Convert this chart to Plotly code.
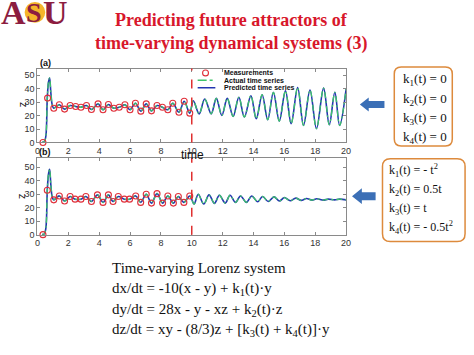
import plotly.graph_objects as go

W, H = 474, 355

# ---------------- data ----------------
# panel (a): k(t)=0
a_spike_t = [0.30, 0.45, 0.55, 0.64, 0.72, 0.79, 0.87, 0.96]
a_spike_z = [0.1, 0.5, 5, 33, 45, 48, 37, 28]
a_meas_t = [0.36, 0.66, 1.06, 1.42, 1.76, 2.12, 2.48, 2.82, 3.18, 3.50, 3.93, 4.25, 4.60, 4.95,
            5.30, 5.67, 6.00, 6.35, 6.70, 7.05, 7.39, 7.75, 8.10, 8.45, 8.77, 9.17, 9.51, 9.87]
a_meas_z = [0, 33, 25.5, 28, 24.8, 27.5, 26.7, 26.2, 27.5, 24.5, 28.7, 24.3, 28.2, 25.5,
            26.2, 28, 24.3, 29.2, 23.3, 28.7, 23.5, 27.5, 26.2, 24.3, 29.2, 22.5, 30.6, 21.8]
a_future_t = [10.10, 10.48, 10.84, 11.26, 11.59, 11.95, 12.30, 12.68, 13.05, 13.41, 13.83, 14.18,
              14.56, 14.92, 15.29, 15.67, 16.07, 16.44, 16.86, 17.24, 17.66, 18.08, 18.54, 18.91,
              19.27, 19.58, 20.00]
a_future_z = [31.0, 21.3, 32.3, 21.3, 32.8, 20.1, 32.8, 19.4, 33.6, 18.9, 34.8, 17.6,
              35.5, 16.9, 37.3, 15.9, 38.5, 14.0, 40.9, 12.7, 39.0, 10.3, 40.4, 13.2,
              37.3, 12.7, 39.7]

# panel (b): time-varying k(t)
b_spike_t = [0.30, 0.45, 0.55, 0.64, 0.72, 0.79, 0.87, 0.96]
b_spike_z = [0.1, 0.5, 5, 32.9, 45, 48.5, 37, 28]
b_meas_t = [0.36, 0.64, 1.06, 1.42, 1.76, 2.12, 2.44, 2.82, 3.14, 3.50, 3.89, 4.25, 4.60, 4.90,
            5.24, 5.63, 5.97, 6.37, 6.69, 7.05, 7.39, 7.75, 8.11, 8.45, 8.81, 9.13, 9.49, 9.87]
b_meas_z = [0, 32.9, 25.8, 28.7, 24.9, 28.3, 26.3, 26.3, 28.3, 24.6, 29.5, 23.9, 29.5, 24.6,
            28.3, 26.3, 26.3, 28.7, 23.9, 30.0, 23.4, 30.4, 23.4, 28.7, 23.4, 28.3, 23.9, 28.7]
b_future_t = [10.15, 10.42, 10.78, 11.12, 11.47, 11.79, 12.17, 12.48, 12.84, 13.16, 13.54, 13.89,
              14.27, 14.59, 14.95, 15.33, 15.68, 16.00, 16.38, 16.74, 17.09, 17.43, 17.79, 18.10,
              18.53, 18.84, 19.26, 19.58, 20.00]
b_future_z = [22.7, 29.9, 22.7, 29.5, 23.2, 29.2, 23.4, 29.2, 23.9, 28.7, 23.9, 28.7,
              24.4, 28.3, 24.6, 28.0, 24.9, 27.5, 25.1, 27.1, 25.4, 26.8, 25.6, 26.6,
              25.6, 26.3, 25.8, 26.3, 25.8]

x_ticks = [0, 2, 4, 6, 8, 10, 12, 14, 16, 18, 20]
y_ticks = [0, 10, 20, 30, 40, 50]
t_split = 10

legend_names = ["Measurements", "Actual time series", "Predicted time series"]

box1_lines = ["k<sub>1</sub>(t) = 0", "k<sub>2</sub>(t) = 0", "k<sub>3</sub>(t) = 0", "k<sub>4</sub>(t) = 0"]
box2_lines = ["k<sub>1</sub>(t) = - t<sup>2</sup>", "k<sub>2</sub>(t) = 0.5t", "k<sub>3</sub>(t) = t",
              "k<sub>4</sub>(t) = - 0.5t<sup>2</sup>"]
eq_lines = ["Time-varying Lorenz system",
            "dx/dt = -10(x - y) + k<sub>1</sub>(t)\u00b7y",
            "dy/dt = 28x - y - xz + k<sub>2</sub>(t)\u00b7z",
            "dz/dt = xy - (8/3)z + [k<sub>3</sub>(t) + k<sub>4</sub>(t)]\u00b7y"]

BLUE = "#2436b0"
GREEN = "#3ec46a"
RED = "#e0303a"


def px(x):
    return x / W


def py(y):
    return 1 - y / H


fig = go.Figure()

panels = [
    ("", "", a_spike_t, a_spike_z, a_meas_t, a_meas_z, a_future_t, a_future_z),
    ("2", "2", b_spike_t, b_spike_z, b_meas_t, b_meas_z, b_future_t, b_future_z),
]

for xs, ys, st, sz, mt, mz, ft, fz in panels:
    line_t = st + mt[2:] + ft
    line_z = sz + mz[2:] + fz
    fig.add_trace(go.Scatter(x=line_t, y=line_z, mode="lines", name=legend_names[2],
                             line=dict(color=BLUE, width=1.6, shape="spline", smoothing=1.0),
                             xaxis="x" + xs, yaxis="y" + ys))
    fig.add_trace(go.Scatter(x=line_t, y=line_z, mode="lines", name=legend_names[1],
                             line=dict(color=GREEN, width=1.3, dash="6px,3px,2px,3px",
                                       shape="spline", smoothing=1.0),
                             xaxis="x" + xs, yaxis="y" + ys))
    fig.add_trace(go.Scatter(x=mt, y=mz, mode="markers", name=legend_names[0],
                             marker=dict(symbol="circle-open", size=6, color=RED,
                                         line=dict(width=1.1)),
                             cliponaxis=False,
                             xaxis="x" + xs, yaxis="y" + ys))
    fig.add_shape(type="line", x0=t_split, x1=t_split, y0=0, y1=1,
                  xref="x" + xs, yref=("y" + ys + " domain"),
                  line=dict(color="#e03030", width=1.5, dash="dash"))

axis_common = dict(showline=True, linecolor="#8a8a8a", linewidth=1, mirror="ticks",
                   ticks="inside", ticklen=3, tickcolor="#8a8a8a", showgrid=False,
                   zeroline=False, tickfont=dict(family="Arial", size=9, color="#333"))

x_dom = [px(35), px(349)]
fig.update_layout(
    width=W, height=H, margin=dict(l=0, r=0, t=0, b=0),
    paper_bgcolor="white", plot_bgcolor="white", showlegend=False,
    xaxis=dict(domain=x_dom, range=[0, 20], tickvals=x_ticks, anchor="y", **axis_common),
    yaxis=dict(domain=[py(144.5), py(69.5)], range=[0, 55], tickvals=y_ticks, anchor="x",
               **axis_common),
    xaxis2=dict(domain=x_dom, range=[0, 20], tickvals=x_ticks, anchor="y2", **axis_common),
    yaxis2=dict(domain=[py(238), py(160)], range=[0, 57], tickvals=y_ticks, anchor="x2",
                **axis_common),
)

ann = []
serif = "Liberation Serif"
title_red = "#d8172b"
ann.append(dict(text="<b>Predicting future attractors of</b>", x=px(232), y=py(20),
                font=dict(family=serif, size=18, color=title_red)))
ann.append(dict(text="<b>time-varying dynamical systems (3)</b>", x=px(232), y=py(44),
                font=dict(family=serif, size=18, color=title_red)))
# panel labels
ann.append(dict(text="<b>(a)</b>", x=px(43), y=py(64), font=dict(family="Arial", size=9, color="#111")))
ann.append(dict(text="<b>(b)</b>", x=px(43), y=py(154), font=dict(family="Arial", size=9, color="#111")))
ann.append(dict(text="time", x=px(193), y=py(157), font=dict(family="Arial", size=12, color="#111")))
ann.append(dict(text="z", x=px(19), y=py(106), textangle=-90, font=dict(family="Arial", size=11, color="#111")))
ann.append(dict(text="z", x=px(19), y=py(199), textangle=-90, font=dict(family="Arial", size=11, color="#111")))
# manual legend texts
for t, yy in zip(legend_names, [74, 81.5, 89]):
    ann.append(dict(text="<b>" + t + "</b>", x=px(224), y=py(yy), xanchor="left",
                    font=dict(family="Arial", size=7, color="#111")))
# boxes text
for t, yy in zip(box1_lines, [81, 101, 120, 139]):
    ann.append(dict(text=t, x=px(406), y=py(yy), xanchor="left",
                    font=dict(family=serif, size=13, color="#111")))
for t, yy in zip(box2_lines, [173, 193, 212, 231]):
    ann.append(dict(text=t, x=px(392), y=py(yy), xanchor="left",
                    font=dict(family=serif, size=12, color="#111")))
for t, yy in zip(eq_lines, [272, 293, 314, 335]):
    ann.append(dict(text=t, x=px(110), y=py(yy), xanchor="left",
                    font=dict(family=serif, size=15, color="#111")))
# ASU logo text
ann.append(dict(text="<b>A</b>", x=px(11), y=py(13), font=dict(family=serif, size=34, color="#8c1d40")))
ann.append(dict(text="<b>U</b>", x=px(53), y=py(13), font=dict(family=serif, size=34, color="#8c1d40")))
ann.append(dict(text="<b>S</b>", x=px(32), y=py(13), font=dict(family=serif, size=28, color="#8c1d40")))

for a in ann:
    a.setdefault("xanchor", "center")
    a.update(xref="paper", yref="paper", yanchor="middle", showarrow=False, borderpad=0)
fig.update_layout(annotations=ann)


def rounded(x0, y0, x1, y1, r):
    X0, X1 = px(x0), px(x1)
    Y0, Y1 = py(y0), py(y1)
    rx, ry = r / W, r / H
    return (f"M {X0+rx},{Y0} L {X1-rx},{Y0} Q {X1},{Y0} {X1},{Y0-ry} "
            f"L {X1},{Y1+ry} Q {X1},{Y1} {X1-rx},{Y1} L {X0+rx},{Y1} "
            f"Q {X0},{Y1} {X0},{Y1+ry} L {X0},{Y0-ry} Q {X0},{Y0} {X0+rx},{Y0} Z")


def arrow(xt, xe, yc, hh, sh, xh):
    pts = [(xt, yc), (xh, yc - hh), (xh, yc - sh), (xe, yc - sh), (xe, yc + sh), (xh, yc + sh),
           (xh, yc + hh)]
    return "M " + " L ".join(f"{px(a)},{py(b)}" for a, b in pts) + " Z"


shapes = [
    dict(type="path", path=rounded(398, 68, 457, 148, 7), xref="paper", yref="paper",
         line=dict(color="#dd8a3c", width=1.5)),
    dict(type="path", path=rounded(386, 161, 470, 245, 8), xref="paper", yref="paper",
         line=dict(color="#dd8a3c", width=1.5)),
    dict(type="path", path=arrow(363, 388, 106, 7, 3.5, 372), xref="paper", yref="paper",
         fillcolor="#3b6fb6", line=dict(width=0)),
    dict(type="path", path=arrow(355, 379, 199, 8, 4, 365), xref="paper", yref="paper",
         fillcolor="#3b6fb6", line=dict(width=0)),
    # legend symbols
    dict(type="circle", x0=px(203), x1=px(209), y0=py(77), y1=py(71), xref="paper", yref="paper",
         line=dict(color=RED, width=1.1), fillcolor="white"),
    dict(type="line", x0=px(198), x1=px(216), y0=py(81.5), y1=py(81.5), xref="paper", yref="paper",
         line=dict(color=GREEN, width=1.5, dash="dashdot")),
    dict(type="line", x0=px(198), x1=px(216), y0=py(89), y1=py(89), xref="paper", yref="paper",
         line=dict(color=BLUE, width=1.5)),
    # gold sun of the logo
    dict(type="circle", x0=px(22), x1=px(43), y0=py(23), y1=py(2), xref="paper", yref="paper",
         fillcolor="#f5b52a", line=dict(width=0), layer="below"),
]
for s in shapes:
    fig.add_shape(**s)

fig.write_html("out.html", config={"displayModeBar": False},
               post_script="document.body.style.margin='0';document.body.style.overflow='hidden';")
